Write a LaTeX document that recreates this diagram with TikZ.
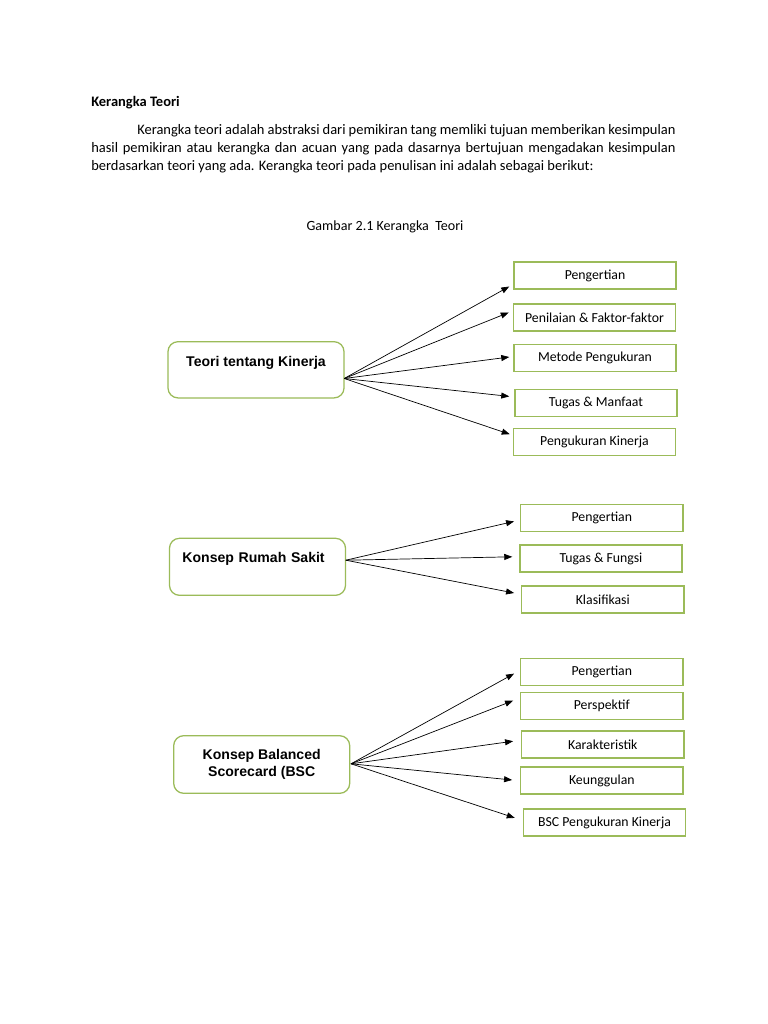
\documentclass[tikz,border=0pt]{standalone}
\usepackage{fontspec}
\setmainfont{Carlito}
\newfontfamily\boxfont{Liberation Sans}
\usepackage{tikz}
\usetikzlibrary{arrows.meta}
\usetikzlibrary{calc}
\usetikzlibrary{positioning}
\definecolor{boxgreen}{RGB}{155,187,89}

\begin{document}
\begin{tikzpicture}[x=0.025cm, y=-0.025cm,
  mainbox/.style={draw=boxgreen, line width=0.9pt, rounded corners=0.25cm, inner sep=0pt, minimum width=4.4cm, font=\boxfont\bfseries\fontsize{10}{12.1}\selectfont},
  subbox/.style={draw=boxgreen, line width=1pt, inner sep=0pt, minimum width=4.05cm, minimum height=0.675cm, font=\fontsize{9.8}{12}\selectfont},
  arr/.style={-{Triangle[length=\l, width=\w]}, line width=0.5pt}]
\def\l{2mm}
\def\w{1.5mm}
\useasboundingbox [fill=white] (0,0) rectangle (768,1024);
% teks pengantar
\node [anchor=base west, inner sep=0pt, font=\bfseries\fontsize{10.3}{12}\selectfont, name=judul] at (91,106.7) {Kerangka Teori};
\node [anchor=base west, inner sep=0pt, text width=14.6cm, align=justify, font=\fontsize{10.3}{12.8}\selectfont, name=paragraf] at (91,135) {\hyphenpenalty=10000\hspace*{1.15cm}Kerangka teori adalah abstraksi dari pemikiran tang memliki tujuan memberikan kesimpulan\linebreak hasil pemikiran atau kerangka dan acuan yang pada dasarnya bertujuan mengadakan kesimpulan\linebreak berdasarkan teori yang ada. Kerangka teori pada penulisan ini adalah sebagai berikut:};
\node [anchor=base, inner sep=0pt, font=\fontsize{10}{12}\selectfont, name=gambar] at (385,230.7) {Gambar 2.1 Kerangka\ \ Teori};
% kinerja
\node [mainbox, text height=0.625cm, text depth=0.78cm, anchor=base, name=k1] at (256,366.7) {Teori tentang Kinerja};
\node [subbox, name=p1] at (595,275.5) {Pengertian};
\node [subbox, name=p2] at (594.5,317.5) {Penilaian \& Faktor-faktor};
\node [subbox, name=p3] at (595,358) {Metode Pengukuran};
\node [subbox, name=p4] at (596,402.8) {Tugas \& Manfaat};
\node [subbox, name=p5] at (594.5,441.8) {Pengukuran Kinerja};
\coordinate (o1) at (344.2,378.5);
\draw [arr] (o1) -- ($(p1.west)+(-4,11)$);
\draw [arr] (o1) -- ($(p2.west)+(-4,-5)$);
\draw [arr] (o1) -- ($(p3.west)+(-4,-1)$);
\draw [arr] (o1) -- ($(p4.west)+(-5,-6.4)$);
\draw [arr] (o1) -- ($(p5.west)+(-3,-7.6)$);
% rumah sakit
\node [mainbox, text width=3.75cm, inner xsep=0.325cm, align=left, text height=0.6cm, text depth=0.825cm, anchor=base, name=k2] at (257.5,562.3) {Konsep Rumah Sakit};
\node [subbox, name=q1] at (601.8,518) {Pengertian};
\node [subbox, name=q2] at (601,558.5) {Tugas \& Fungsi};
\node [subbox, name=q3] at (602.8,599.3) {Klasifikasi};
\coordinate (o2) at (345.8,560.2);
\draw [arr] (o2) -- ($(q1.west)+(-6,3.4)$);
\draw [arr] (o2) -- ($(q2.west)+(-7,-1.7)$);
\draw [arr] (o2) -- ($(q3.west)+(-7,-6.3)$);
% balanced scorecard
\node [mainbox, align=center, minimum height=1.44cm, name=k3] at (261.7,764.5) {Konsep Balanced\\Scorecard (BSC};
\node [subbox, name=r1] at (601.8,672) {Pengertian};
\node [subbox, name=r2] at (601.8,705.7) {Perspektif};
\node [subbox, name=r3] at (602.8,744.6) {Karakteristik};
\node [subbox, name=r4] at (601.8,780.6) {Keunggulan};
\node [subbox, name=r5] at (604.5,822.6) {BSC Pengukuran Kinerja};
\coordinate (o3) at (351,763.8);
\draw [arr] (o3) -- ($(r1.west)+(-6,1.6)$);
\draw [arr] (o3) -- ($(r2.west)+(-7,-5)$);
\draw [arr] (o3) -- ($(r3.west)+(-8,-3.4)$);
\draw [arr] (o3) -- ($(r4.west)+(-8,-0.6)$);
\draw [arr] (o3) -- ($(r5.west)+(-8,-4.7)$);
\end{tikzpicture}
\end{document}
